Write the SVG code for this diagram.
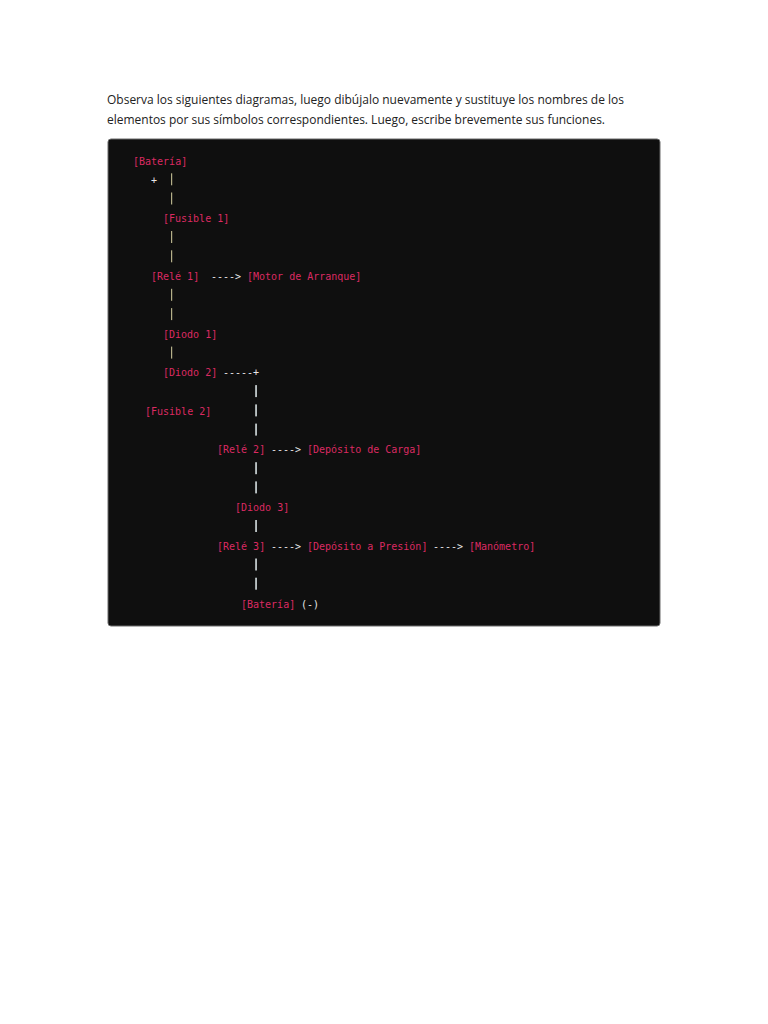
<svg xmlns="http://www.w3.org/2000/svg" width="768" height="1024" viewBox="0 0 768 1024">
<style>
.h{font-family:"Open Sans","Liberation Sans",sans-serif;font-size:13px;fill:#222}
.m{font-family:"DejaVu Sans Mono","Liberation Mono",monospace;font-size:10px}
.n{fill:#dc2a62}
.a{fill:#e8e8e8}
.b1{fill:#b4af88}
.b2{fill:#e4eef0}
</style>
<rect width="768" height="1024" fill="#ffffff"/>
<text class="h" x="107" y="104" textLength="517" lengthAdjust="spacingAndGlyphs">Observa los siguientes diagramas, luego dibújalo nuevamente y sustituye los nombres de los</text>
<text class="h" x="107" y="124" textLength="498" lengthAdjust="spacingAndGlyphs">elementos por sus símbolos correspondientes. Luego, escribe brevemente sus funciones.</text>
<rect x="108" y="139" width="552" height="487" rx="3" fill="#0f0f0f" stroke="#6a6a6a" stroke-width="1"/>
<g id="connectors" class="m">
<text class="a" x="151" y="183.8">+</text>
<rect class="b1" x="171" y="173.3" width="1.2" height="12"/>
<rect class="b1" x="171" y="192.5" width="1.2" height="12"/>
<rect class="b1" x="171" y="231" width="1.2" height="12"/>
<rect class="b1" x="171" y="250.3" width="1.2" height="12"/>
<text class="a" x="211" y="280.1">----&gt;</text>
<rect class="b1" x="171" y="288.8" width="1.2" height="12"/>
<rect class="b1" x="171" y="308.1" width="1.2" height="12"/>
<rect class="b1" x="171" y="346.6" width="1.2" height="12"/>
<text class="a" x="223" y="376.4">-----+</text>
<rect class="b2" x="255.3" y="385.1" width="1.5" height="12"/>
<rect class="b2" x="255.3" y="404.4" width="1.5" height="12"/>
<rect class="b2" x="255.3" y="423.6" width="1.5" height="12"/>
<text class="a" x="271" y="453.4">----&gt;</text>
<rect class="b2" x="255.3" y="462.2" width="1.5" height="12"/>
<rect class="b2" x="255.3" y="481.4" width="1.5" height="12"/>
<rect class="b2" x="255.3" y="520" width="1.5" height="12"/>
<text class="a" x="271" y="549.7">----&gt;</text>
<text class="a" x="433" y="549.7">----&gt;</text>
<rect class="b2" x="255.3" y="558.5" width="1.5" height="12"/>
<rect class="b2" x="255.3" y="577.7" width="1.5" height="12"/>
</g>
<g id="bateria-pos" class="m"><text class="n" x="133" y="164.5">[Batería]</text></g>
<g id="fusible1" class="m"><text class="n" x="163" y="222.3">[Fusible 1]</text></g>
<g id="rele1" class="m"><text class="n" x="151" y="280.1">[Relé 1]</text></g>
<g id="motor" class="m"><text class="n" x="247" y="280.1">[Motor de Arranque]</text></g>
<g id="diodo1" class="m"><text class="n" x="163" y="337.8">[Diodo 1]</text></g>
<g id="diodo2" class="m"><text class="n" x="163" y="376.4">[Diodo 2]</text></g>
<g id="fusible2" class="m"><text class="n" x="145" y="414.9">[Fusible 2]</text></g>
<g id="rele2" class="m"><text class="n" x="217" y="453.4">[Relé 2]</text></g>
<g id="deposito-carga" class="m"><text class="n" x="307" y="453.4">[Depósito de Carga]</text></g>
<g id="diodo3" class="m"><text class="n" x="235" y="511.2">[Diodo 3]</text></g>
<g id="rele3" class="m"><text class="n" x="217" y="549.7">[Relé 3]</text></g>
<g id="deposito-presion" class="m"><text class="n" x="307" y="549.7">[Depósito a Presión]</text></g>
<g id="manometro" class="m"><text class="n" x="469" y="549.7">[Manómetro]</text></g>
<g id="bateria-neg" class="m"><text class="n" x="241" y="607.5">[Batería]</text><text class="a" x="301" y="607.5">(-)</text></g>
</svg>
